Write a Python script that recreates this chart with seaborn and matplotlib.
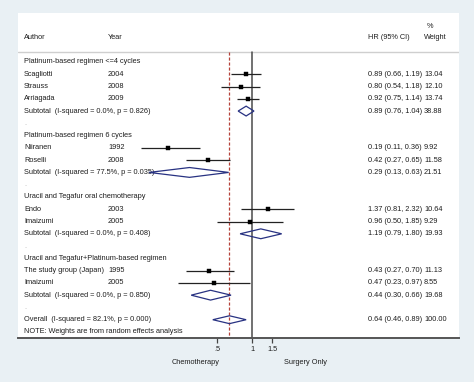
import numpy as np
import pandas as pd
import matplotlib
matplotlib.use("Agg")
import matplotlib.pyplot as plt
import matplotlib.transforms as mtransforms
from matplotlib.patches import Polygon
import seaborn as sns

# ---------------- data ----------------
group_names = ["Platinum-based regimen <=4 cycles",
               "Platinum-based regimen 6 cycles",
               "Uracil and Tegafur oral chemotherapy",
               "Uracil and Tegafur+Platinum-based regimen"]

study_author = ["Scagliotti", "Strauss", "Arriagada", "Niiranen", "Roselli",
                "Endo", "Imaizumi", "The study group (Japan)", "Imaizumi"]
study_year = [2004, 2008, 2009, 1992, 2008, 2003, 2005, 1995, 2005]
study_group = [0, 0, 0, 1, 1, 2, 2, 3, 3]
study_hr = [0.89, 0.80, 0.92, 0.19, 0.42, 1.37, 0.96, 0.43, 0.47]
study_lo = [0.66, 0.54, 0.75, 0.11, 0.27, 0.81, 0.50, 0.27, 0.23]
study_hi = [1.19, 1.18, 1.14, 0.36, 0.65, 2.32, 1.85, 0.70, 0.97]
study_w = [13.04, 12.10, 13.74, 9.92, 11.58, 10.64, 9.29, 11.13, 8.55]

sub_hr = [0.89, 0.29, 1.19, 0.44]
sub_lo = [0.76, 0.13, 0.79, 0.30]
sub_hi = [1.04, 0.63, 1.80, 0.66]
sub_w = [38.88, 21.51, 19.93, 19.68]
sub_i2 = ["0.0%", "77.5%", "0.0%", "0.0%"]
sub_p = ["0.826", "0.035", "0.408", "0.850"]

overall_hr, overall_lo, overall_hi, overall_w = 0.64, 0.46, 0.89, 100.00
overall_i2, overall_p = "82.1%", "0.000"
note_text = "NOTE: Weights are from random effects analysis"

xticks = [0.5, 1, 1.5]
xticklabels = [".5", "1", "1.5"]
left_label, right_label = "Chemotherapy", "Surgery Only"

# ---------------- layout rows ----------------
rows = []
for g, gname in enumerate(group_names):
    rows.append(dict(kind="header", label=gname))
    for i in range(len(study_author)):
        if study_group[i] == g:
            rows.append(dict(kind="study", label=study_author[i], year=str(study_year[i]),
                             hr=study_hr[i], lo=study_lo[i], hi=study_hi[i], w=study_w[i]))
    rows.append(dict(kind="sub", label=f"Subtotal  (I-squared = {sub_i2[g]}, p = {sub_p[g]})",
                     hr=sub_hr[g], lo=sub_lo[g], hi=sub_hi[g], w=sub_w[g]))
    rows.append(dict(kind="blank", label="."))
rows.append(dict(kind="overall", label=f"Overall  (I-squared = {overall_i2}, p = {overall_p})",
                 hr=overall_hr, lo=overall_lo, hi=overall_hi, w=overall_w))
rows.append(dict(kind="note", label=note_text))
df = pd.DataFrame(rows)
df["y"] = np.arange(len(df))

# ---------------- style ----------------
sns.set_theme(style="white")
plt.rcParams["font.family"] = ["Liberation Sans", "DejaVu Sans"]
bg = "#e9f0f4"
txt = "#1e1e1e"
fs = 5.3

fig = plt.figure(figsize=(4.74, 3.82), dpi=100, facecolor=bg)
ax = fig.add_axes([18/474, 1-338/382, 441/474, 325/382])
ax.set_facecolor("white")
ax.set_xscale("log")
px = 50.5  # pixels per ln unit
ax.set_xlim(np.exp((18-252)/px), np.exp((459-252)/px))
ax.set_ylim(22.49, -3.99)

for s in ["top", "right", "left"]:
    ax.spines[s].set_visible(False)
ax.spines["bottom"].set_color("#555555")
ax.spines["bottom"].set_linewidth(1.4)
ax.set_yticks([])
ax.set_xticks(xticks)
ax.set_xticklabels(xticklabels, fontsize=fs, color=txt)
ax.xaxis.set_minor_locator(matplotlib.ticker.NullLocator())
ax.tick_params(axis="x", direction="out", length=3.5, width=0.9, color="#444444", pad=2,
               bottom=True)

trans = mtransforms.blended_transform_factory(ax.transAxes, ax.transData)
def fx(p):
    return (p - 18) / 441

# header
ax.text(fx(24), -1.96, "Author", transform=trans, fontsize=fs, color=txt, va="center")
ax.text(fx(108), -1.96, "Year", transform=trans, fontsize=fs, color=txt, va="center")
ax.text(fx(368), -1.96, "HR (95% CI)", transform=trans, fontsize=fs, color=txt, va="center")
ax.text(fx(427), -2.85, "%", transform=trans, fontsize=fs, color=txt, va="center")
ax.text(fx(424), -1.96, "Weight", transform=trans, fontsize=fs, color=txt, va="center")
ax.axhline(-0.82, color="#cfcfcf", lw=1.0)

# reference lines
ax.plot([1, 1], [-0.82, 22.49], color="#4a4a4a", lw=1.1, zorder=2)
ax.plot([overall_hr, overall_hr], [-0.82, 22.49], color="#b5423a", lw=0.9,
        ls=(0, (2.5, 1.5)), zorder=2)

# text rows
for _, r in df.iterrows():
    if r["kind"] == "blank":
        ax.text(fx(24), r["y"], ".", transform=trans, fontsize=fs, color="#aaaaaa", va="center")
        continue
    ax.text(fx(24), r["y"], r["label"], transform=trans, fontsize=fs, color=txt, va="center")
    if r["kind"] == "study":
        ax.text(fx(108), r["y"], r["year"], transform=trans, fontsize=fs, color=txt, va="center")
    if r["kind"] in ("study", "sub", "overall"):
        ax.text(fx(368), r["y"], f"{r['hr']:.2f} ({r['lo']:.2f}, {r['hi']:.2f})",
                transform=trans, fontsize=fs, color=txt, va="center")
        ax.text(fx(424), r["y"], f"{r['w']:.2f}", transform=trans, fontsize=fs,
                color=txt, va="center")

# study CIs and points
st = df[df["kind"] == "study"]
ax.hlines(st["y"], st["lo"], st["hi"], color="#222222", lw=0.9, zorder=3)
sns.scatterplot(data=st, x="hr", y="y", marker="s", s=5, color="black",
                edgecolor="black", linewidth=0.3, ax=ax, zorder=4, legend=False)

# diamonds
dc = "#283282"
for _, r in df[df["kind"].isin(["sub", "overall"])].iterrows():
    h = 0.4 if r["kind"] == "sub" else 0.32
    poly = Polygon([[r["lo"], r["y"]], [r["hr"], r["y"] - h], [r["hi"], r["y"]],
                    [r["hr"], r["y"] + h]], closed=True, fill=False, edgecolor=dc,
                   lw=0.9, zorder=5)
    ax.add_patch(poly)

ax.set_xlabel("")
ax.set_ylabel("")

# bottom labels
ax.text(fx(196), -0.074, left_label, transform=ax.transAxes, fontsize=fs, color=txt,
        ha="center", va="center")
ax.text(fx(306), -0.074, right_label, transform=ax.transAxes, fontsize=fs, color=txt,
        ha="center", va="center")

fig.savefig("out.png", dpi=100, facecolor=bg)
